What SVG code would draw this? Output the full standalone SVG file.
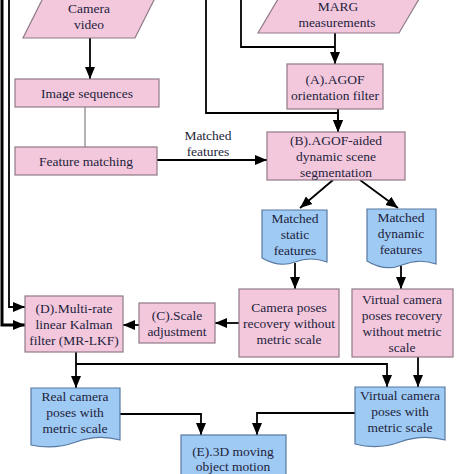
<svg xmlns="http://www.w3.org/2000/svg" width="474" height="474" viewBox="0 0 474 474" font-family="'Liberation Serif', 'DejaVu Serif', serif">
<defs>
<marker id="ah" markerUnits="userSpaceOnUse" markerWidth="12" markerHeight="12" viewBox="0 0 12 12" refX="12" refY="6" orient="auto">
<path d="M0,1 L12,6 L0,11 Z" fill="#000"/>
</marker>
<style>
.pk{fill:#f3c8dc;stroke:#8f7a88;stroke-width:1.2}
.bl{fill:#9ecaf4;stroke:#5878a0;stroke-width:1.2}
text{font-family:'Liberation Serif','DejaVu Serif',serif;font-size:13.5px;fill:#1e1e3c;text-anchor:middle}
.ln{fill:none;stroke:#000;stroke-width:1.8}
.ar{marker-end:url(#ah)}
</style>
</defs>
<g id="connectors">
<path class="ln ar" d="M2,0 V325 H25" style="stroke-width:3"/>
<path class="ln ar" d="M9,0 V307 H25"/>
<path class="ln ar" d="M90,38 V79"/>
<path d="M85,107 V147" fill="none" stroke="#9a9a9a" stroke-width="1.5"/>
<path class="ln ar" d="M157,160 H267"/>
<path class="ln" d="M241,0 V47 H335"/>
<path class="ln ar" d="M335,33 V64"/>
<path class="ln ar" d="M206,0 V113 H338 V132"/>
<path class="ln ar" d="M338,109 V132"/>
<path class="ln ar" d="M333,180 L300,208"/>
<path class="ln ar" d="M360,180 L398,208"/>
<path class="ln ar" d="M295,263 V289"/>
<path class="ln ar" d="M401,266 V289"/>
<path class="ln ar" d="M239,323 H215"/>
<path class="ln ar" d="M139,325 H123"/>
<path class="ln ar" d="M76,352 V388"/>
<path class="ln ar" d="M76,364 H387 V387"/>
<path class="ln ar" d="M418,357 V387"/>
<path class="ln ar" d="M120,414 H201 V435"/>
<path class="ln ar" d="M355,413 H257 V435"/>
</g>
<text x="208" y="140">Matched</text>
<text x="208" y="156">features</text>
<g id="camera-video">
<polygon class="pk" points="45,-6 157,-6 135,38 23,38"/>
<text x="89" y="13">Camera</text>
<text x="89" y="29">video</text>
</g>
<g id="marg">
<polygon class="pk" points="281,-6 422,-6 399,33 258,33"/>
<text x="338" y="11">MARG</text>
<text x="337" y="27">measurements</text>
</g>
<g id="image-sequences">
<rect class="pk" x="15" y="79" width="144" height="28"/>
<text x="87" y="98">Image sequences</text>
</g>
<g id="feature-matching">
<rect class="pk" x="15" y="147" width="142" height="28"/>
<text x="86" y="166">Feature matching</text>
</g>
<g id="agof">
<rect class="pk" x="287" y="64" width="96" height="45"/>
<text x="335" y="84">(A).AGOF</text>
<text x="335" y="100">orientation filter</text>
</g>
<g id="segmentation">
<rect class="pk" x="267" y="132" width="138" height="48"/>
<text x="336" y="145">(B).AGOF-aided</text>
<text x="336" y="161">dynamic scene</text>
<text x="336" y="177">segmentation</text>
</g>
<g id="static-features">
<path class="bl" d="M262,210 H327 V262 Q311,256 295,262 T262,258 Z"/>
<text x="295" y="223">Matched</text>
<text x="295" y="239">static</text>
<text x="295" y="255">features</text>
</g>
<g id="dynamic-features">
<path class="bl" d="M367,209 H436 V264 Q419,258 402,265 T367,261 Z"/>
<text x="401" y="222">Matched</text>
<text x="401" y="238">dynamic</text>
<text x="401" y="254">features</text>
</g>
<g id="camera-poses">
<rect class="pk" x="239" y="289" width="100" height="68"/>
<text x="289" y="312">Camera poses</text>
<text x="289" y="328">recovery without</text>
<text x="289" y="344">metric scale</text>
</g>
<g id="virtual-poses">
<rect class="pk" x="352" y="289" width="101" height="68"/>
<text x="402" y="304">Virtual camera</text>
<text x="402" y="320">poses recovery</text>
<text x="402" y="336">without metric</text>
<text x="402" y="352">scale</text>
</g>
<g id="scale-adjustment">
<rect class="pk" x="139" y="303" width="76" height="40"/>
<text x="177" y="320">(C).Scale</text>
<text x="177" y="336">adjustment</text>
</g>
<g id="mrlkf">
<rect class="pk" x="25" y="296" width="98" height="56"/>
<text x="74" y="313">(D).Multi-rate</text>
<text x="74" y="329">linear Kalman</text>
<text x="74" y="345">filter (MR-LKF)</text>
</g>
<g id="real-metric">
<path class="bl" d="M31,388 H120 V440 Q98,434 76,442 T31,445 Z"/>
<text x="75" y="401">Real camera</text>
<text x="75" y="417">poses with</text>
<text x="75" y="433">metric scale</text>
</g>
<g id="virtual-metric">
<path class="bl" d="M355,387 H445 V440 Q422,434 400,442 T355,444 Z"/>
<text x="400" y="400">Virtual camera</text>
<text x="400" y="416">poses with</text>
<text x="400" y="432">metric scale</text>
</g>
<g id="object-motion">
<rect class="bl" x="181" y="435" width="105" height="45"/>
<text x="233" y="456">(E).3D moving</text>
<text x="233" y="471">object motion</text>
</g>
</svg>
